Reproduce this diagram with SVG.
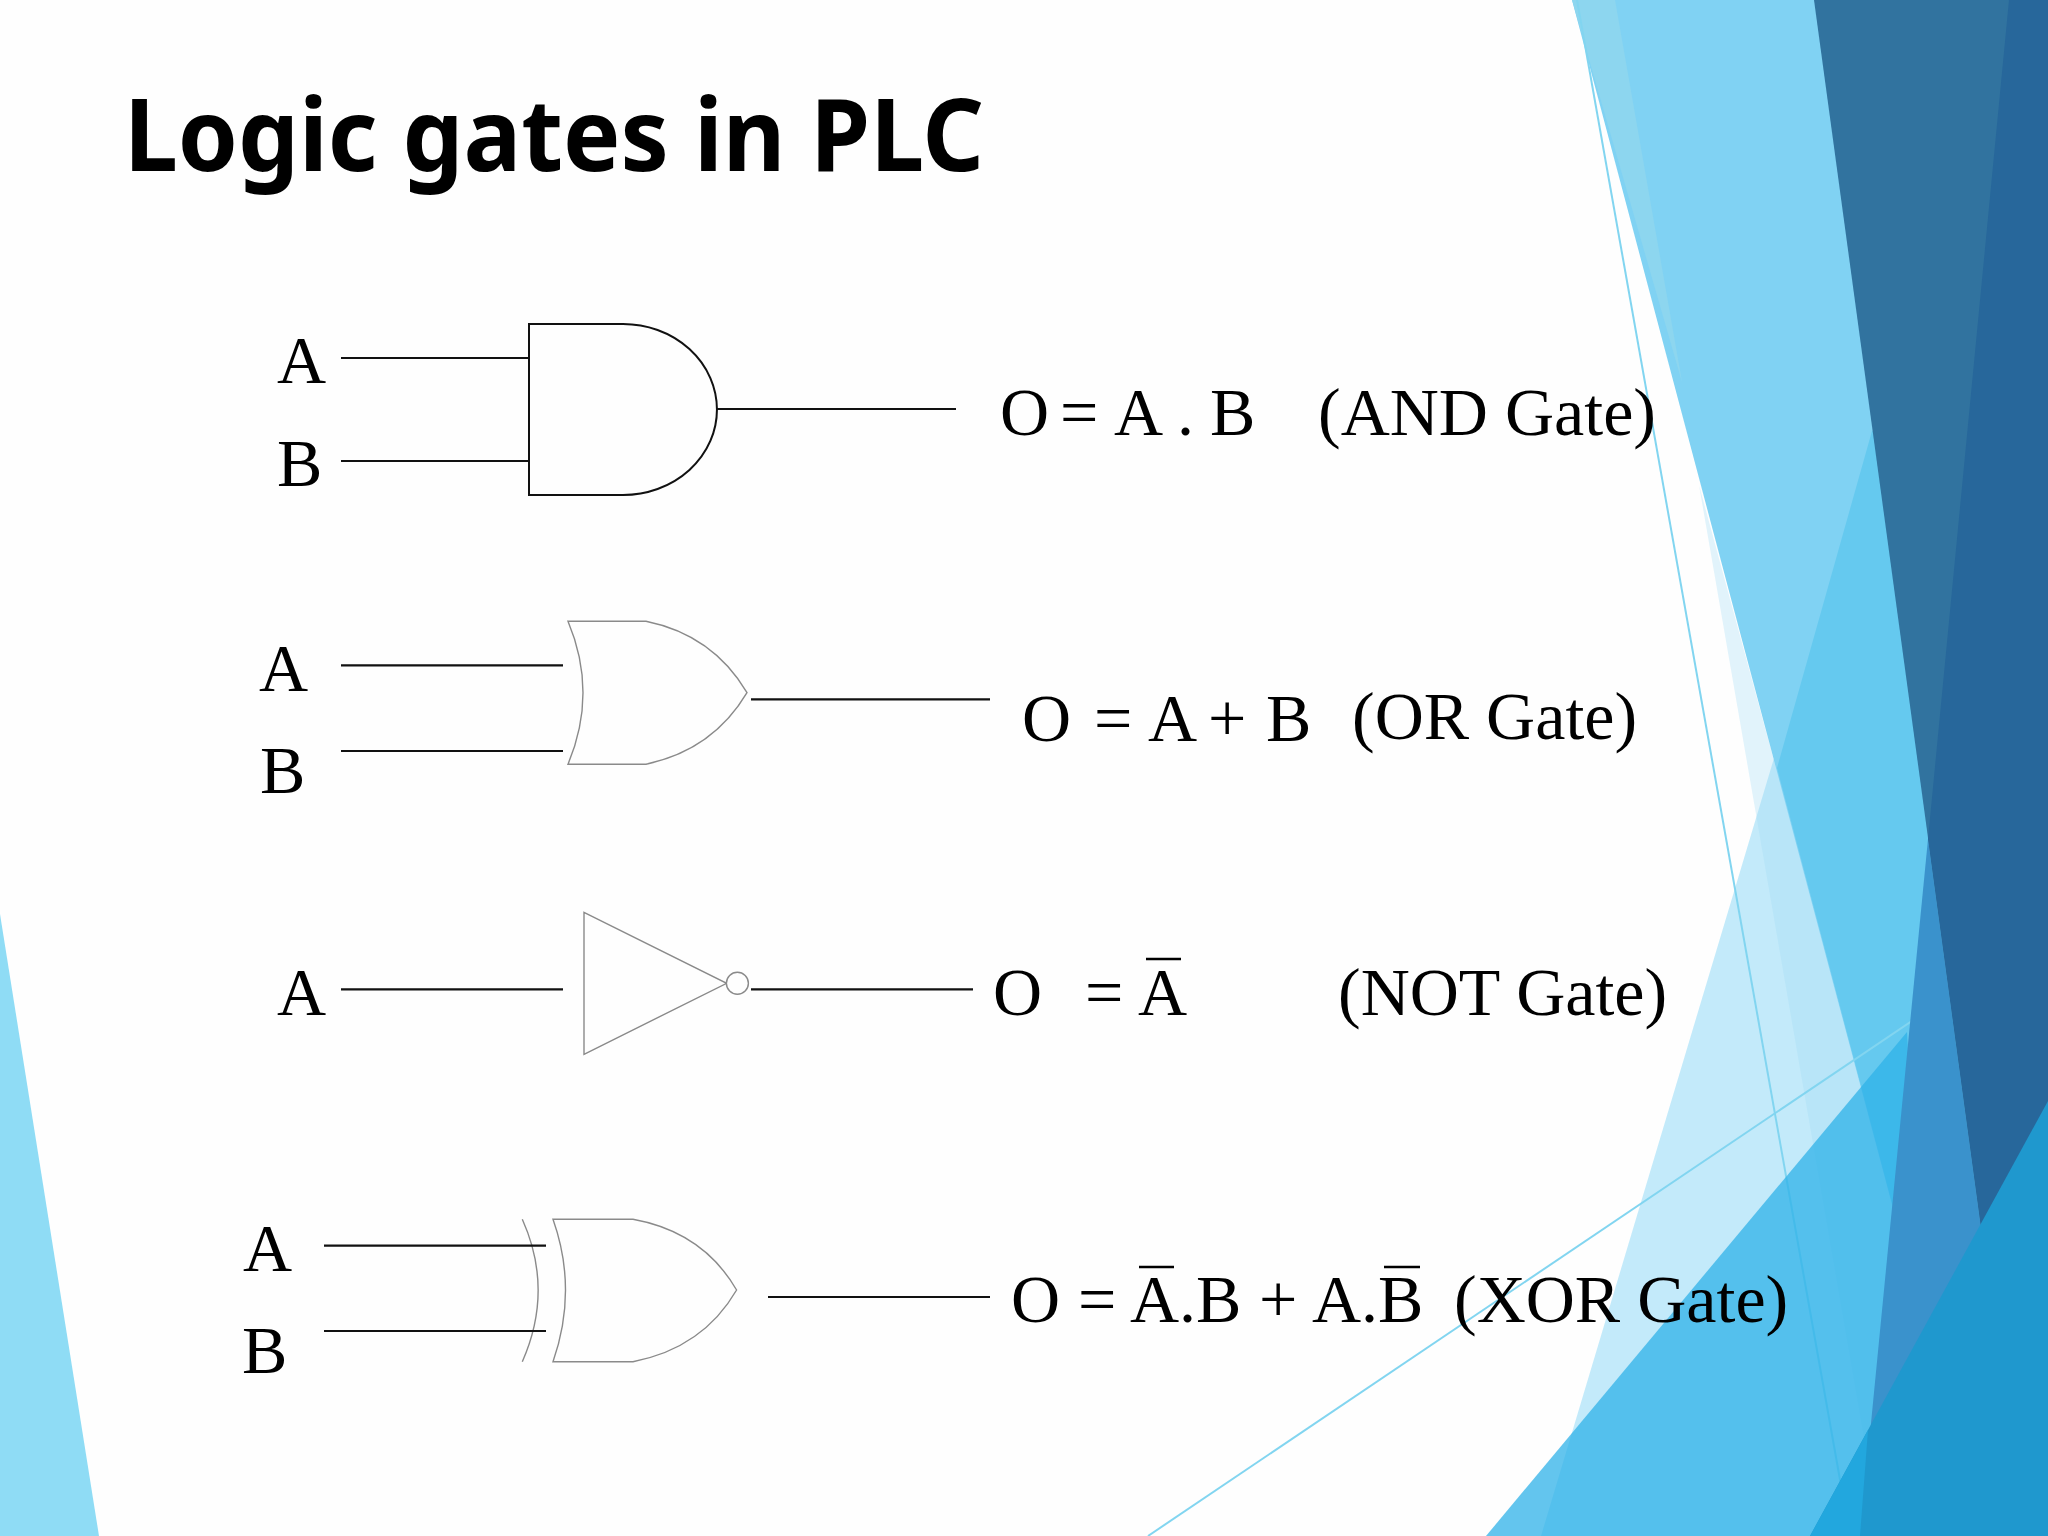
<svg xmlns="http://www.w3.org/2000/svg" width="2048" height="1536" viewBox="0 0 2048 1536">
<style>
.w{stroke:#111;stroke-width:2.2;fill:none}
.g{stroke:#8a8a8a;stroke-width:1.4;fill:#fefefe}
.a{stroke:#8a8a8a;stroke-width:1.4;fill:none}
.t{font-family:"Liberation Serif","Times New Roman",serif;font-size:68px;fill:#000}
.thin{stroke:#82d5f0;stroke-width:2;fill:none}
</style>
<rect width="2048" height="1536" fill="#fefefe"/>
<g id="background">
<polygon points="0,914 99,1536 0,1536" fill="#8fdcf5"/>
<polygon points="1541,1536 1872,431 1990,1536" fill="#c3eafa"/>
<polygon points="1699,485 1776,768 1980,1536 1881,1536" fill="#9ed9f4" opacity=".3"/>
<polygon points="1572,0 1830,0 2040,1536 1980,1536" fill="#80d2f3"/>
<polygon points="1572,0 1615,0 1682,382" fill="#8dd6ef"/>
<polygon points="1872,431 1777,768 1980,1536 2040,1536 1900,431" fill="#65c9ef"/>
<line class="thin" x1="1577" y1="0" x2="1850" y2="1536"/>
<line class="thin" x1="1148" y1="1536" x2="1946" y2="998"/>
<polygon points="1486,1536 1907,1032 1935,1536" fill="#2fb2e8" opacity=".75"/>
<polygon points="1814,0 2048,0 2048,1536 2023,1536" fill="#31739f"/>
<polygon points="1928,839 2023,1536 1860,1536" fill="#3a92cc"/>
<polygon points="2009,0 2048,0 2048,1536 2023,1536 1928,839" fill="#27679b"/>
<polygon points="1810,1536 2048,1101 2048,1536" fill="#1f98ce"/>
<polygon points="1810,1536 1868,1430 1860,1536" fill="#22a7de"/>
</g>
<text id="title" x="124" y="171" font-family="'Noto Sans','DejaVu Sans',sans-serif" font-weight="700" font-size="100" textLength="860" lengthAdjust="spacingAndGlyphs" fill="#000">Logic gates in PLC</text>
<g id="connectors">
<line class="w" x1="341" y1="358" x2="529" y2="358"/>
<line class="w" x1="341" y1="461" x2="529" y2="461"/>
<line class="w" x1="717" y1="409" x2="956" y2="409"/>
<line class="w" x1="341" y1="665.3" x2="563" y2="665.3"/>
<line class="w" x1="341" y1="751" x2="563" y2="751"/>
<line class="w" x1="751" y1="699.3" x2="990" y2="699.3"/>
<line class="w" x1="341" y1="989.3" x2="563" y2="989.3"/>
<line class="w" x1="751" y1="989.3" x2="973" y2="989.3"/>
</g>
<g id="and-gate">
<path d="M529 324H623A94 85.5 0 0 1 623 495H529Z" fill="#fefefe" stroke="#111" stroke-width="2"/>
<text class="t" x="277" y="383">A</text>
<text class="t" x="277" y="486">B</text>
<text class="t" y="435"><tspan x="1000">O</tspan><tspan x="1060">=</tspan><tspan x="1114">A</tspan><tspan x="1177">.</tspan><tspan x="1210">B</tspan></text>
<text class="t" x="1318" y="435">(AND Gate)</text>
</g>
<g id="or-gate">
<path class="g" d="M568 621.3H646Q713 635 747 692.7Q713 750 646 764.3H568Q598 692.7 568 621.3Z"/>
<text class="t" x="259" y="690.7">A</text>
<text class="t" x="260" y="792.7">B</text>
<text class="t" y="741"><tspan x="1022">O</tspan><tspan x="1094">=</tspan><tspan x="1148">A</tspan><tspan x="1208">+</tspan><tspan x="1266">B</tspan></text>
<text class="t" x="1352" y="739">(OR Gate)</text>
</g>
<g id="not-gate">
<polygon class="g" points="584,912.3 726.7,983.3 584,1054.3"/>
<circle class="g" cx="737.4" cy="983.3" r="11"/>
<text class="t" x="277" y="1014.7">A</text>
<text class="t" y="1014.5"><tspan x="993">O</tspan><tspan x="1085">=</tspan><tspan x="1138">A</tspan></text>
<line x1="1146" y1="959" x2="1181" y2="959" stroke="#000" stroke-width="2.4"/>
<text class="t" x="1338" y="1014.5">(NOT Gate)</text>
</g>
<g id="xor-gate">
<path class="a" d="M522.3 1219.3Q554 1290 522.3 1361.7"/>
<path class="g" d="M553 1219.3H633Q703 1232 736.6 1290Q703 1348 633 1361.7H553Q578 1290 553 1219.3Z"/>
<line class="w" x1="324" y1="1245.7" x2="546" y2="1245.7"/>
<line class="w" x1="324" y1="1331" x2="546" y2="1331"/>
<line class="w" x1="768" y1="1297" x2="990" y2="1297"/>
<text class="t" x="243" y="1270.7">A</text>
<text class="t" x="242" y="1372.7">B</text>
<text class="t" y="1322"><tspan x="1011">O</tspan><tspan x="1078">=</tspan><tspan x="1130">A.B</tspan><tspan x="1259">+</tspan><tspan x="1312">A.B</tspan></text>
<line x1="1139" y1="1267" x2="1174" y2="1267" stroke="#000" stroke-width="2.4"/>
<line x1="1384" y1="1267" x2="1420" y2="1267" stroke="#000" stroke-width="2.4"/>
<text class="t" x="1454" y="1322">(XOR Gate)</text>
</g>
</svg>
